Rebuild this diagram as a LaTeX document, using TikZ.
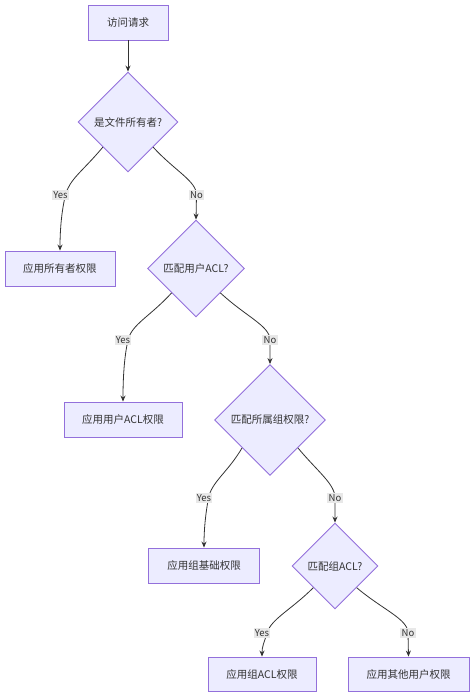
\documentclass[tikz,border=0pt]{standalone}
\usepackage{fontspec}
\setmainfont{Noto Sans CJK SC}
\usetikzlibrary{shapes.geometric,arrows.meta}
\definecolor{nodefill}{HTML}{ECECFF}
\definecolor{nodeline}{HTML}{9370DB}
\definecolor{edgecol}{HTML}{333333}
\definecolor{lblbg}{HTML}{E8E8E8}
\begin{document}
\begin{tikzpicture}[x=1pt,y=1pt,
  every node/.style={font=\fontsize{10.5}{12}\selectfont, text=edgecol},
  procbox/.style={draw=nodeline, fill=nodefill, line width=0.9pt, minimum height=35pt, inner sep=0pt},
  decision/.style={diamond, draw=nodeline, fill=nodefill, line width=0.9pt, inner sep=0pt, aspect=1},
  edge/.style={draw=edgecol, line width=0.8pt, -{Stealth[length=6pt,width=5pt]}},
  lbl/.style={fill=lblbg, inner sep=1.2pt, font=\fontsize{9.5}{11}\selectfont}]
\useasboundingbox (0,0) rectangle (474,-697);
\fill[white] (0,0) rectangle (474,-697);

\node[procbox, minimum width=80pt] (a) at (128,-22.5) {访问请求};
\node[decision, minimum width=100pt, minimum height=100pt] (d1) at (128,-122) {是文件所有者?};
\node[procbox, minimum width=110pt] (b) at (60,-268.5) {应用所有者权限};
\node[decision, minimum width=97pt, minimum height=97pt] (d2) at (196,-268.5) {匹配用户ACL?};
\node[procbox, minimum width=118pt] (c) at (123,-419.5) {应用用户ACL权限};
\node[decision, minimum width=111pt, minimum height=111pt] (d3) at (270,-420) {匹配所属组权限?};
\node[procbox, minimum width=111pt] (e) at (204,-565.5) {应用组基础权限};
\node[decision, minimum width=86pt, minimum height=86pt] (d4) at (335,-566) {匹配组ACL?};
\node[procbox, minimum width=108pt, minimum height=34pt] (f) at (262,-674) {应用组ACL权限};
\node[procbox, minimum width=121pt, minimum height=34pt] (g) at (408.5,-674) {应用其他用户权限};

\coordinate (y1) at (60.5,-195);
\coordinate (n1) at (196.5,-195);
\coordinate (y2) at (123,-340);
\coordinate (n2) at (270,-340);
\coordinate (y3) at (204,-498);
\coordinate (n3) at (335,-498);
\coordinate (y4) at (262,-633);
\coordinate (n4) at (408,-633);

\draw[edge] (a.south) -- (d1.north);
\draw[edge] (d1.south west) .. controls +(-20,-24) and +(4,16) .. ([xshift=5pt]y1)
  .. controls +(-4,-16) and +(0,20) .. (b.north);
\draw[edge] (d1.south east) .. controls +(22,-24) and +(0,14) .. (n1) -- (d2.north);
\draw[edge] (d2.south west) .. controls +(-22,-24) and +(4,16) .. ([xshift=5pt]y2)
  .. controls +(-4,-18) and +(0,22) .. (c.north);
\draw[edge] (d2.south east) .. controls +(26,-24) and +(0,14) .. (n2) -- (d3.north);
\draw[edge] (d3.south west) .. controls +(-14,-24) and +(3,16) .. ([xshift=4.5pt]y3)
  .. controls +(-3,-16) and +(0,18) .. (e.north);
\draw[edge] (d3.south east) .. controls +(20,-24) and +(0,14) .. (n3) -- (d4.north);
\draw[edge] (d4.south west) .. controls +(-22,-22) and +(4,14) .. ([xshift=5pt]y4)
  .. controls +(-3,-10) and +(0,10) .. (f.north);
\draw[edge] (d4.south east) .. controls +(26,-22) and +(0,14) .. (n4) -- (g.north);

\node[lbl] (ly1) at (y1) {Yes};
\node[lbl] (ln1) at (n1) {No};
\node[lbl] (ly2) at (y2) {Yes};
\node[lbl] (ln2) at (n2) {No};
\node[lbl] (ly3) at (y3) {Yes};
\node[lbl] (ln3) at (n3) {No};
\node[lbl] (ly4) at (y4) {Yes};
\node[lbl] (ln4) at (n4) {No};
\end{tikzpicture}
\end{document}
